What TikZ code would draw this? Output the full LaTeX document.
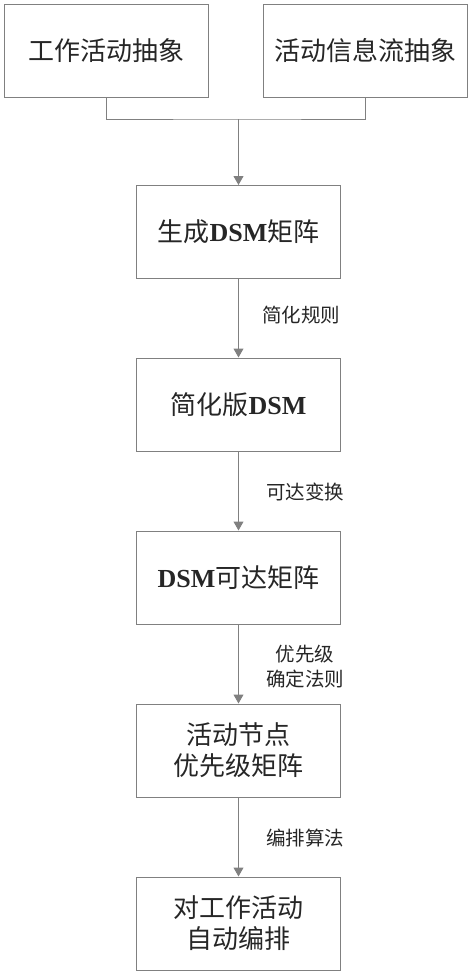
\documentclass[tikz,border=0pt]{standalone}
\usepackage{fontspec}
\setmainfont{Liberation Serif}
\newfontfamily\cjk{Noto Sans CJK SC}
\usetikzlibrary{arrows.meta}

\begin{document}
\begin{tikzpicture}[
		x=1pt, y=1pt,
		every node/.style={text=black!85},
		box/.style={rectangle, draw=gray, line width=1pt, minimum width=204pt, minimum height=93pt, align=center, font=\fontsize{26}{31}\selectfont},
		lbl/.style={anchor=west, align=center, inner sep=0pt, font=\fontsize{19.5}{25}\selectfont},
		flow/.style={draw=gray, line width=1pt, -{Triangle[width=10pt, length=9pt]}}
	]
  \useasboundingbox (0, 0) rectangle (474, -977);
  \node (abs_w) [box] at (106, -50.5) {{\cjk 工作活动抽象}};
  \node (abs_f) [box] at (365, -50.5) {{\cjk 活动信息流抽象}};
  \coordinate (j) at (238.5, -119);
  \node (dsm_0) [box] at (238.5, -232) {{\cjk 生成}\textbf{DSM}{\cjk 矩阵}};
  \node (dsm_s) [box] at (238.5, -404.5) {{\cjk 简化版}\textbf{DSM}};
  \node (dsm_r) [box] at (238.5, -577.5) {\textbf{DSM}{\cjk 可达矩阵}};
  \node (prio) [box] at (238.5, -750.5) {{\cjk 活动节点}\\{\cjk 优先级矩阵}};
  \node (sched) [box] at (238.5, -923.5) {{\cjk 对工作活动}\\{\cjk 自动编排}};
  % labels beside the arrows
  \node (l_1) [lbl] at (262, -315) {{\cjk 简化规则}};
  \node (l_2) [lbl] at (266, -492) {{\cjk 可达变换}};
  \node (l_3) [lbl] at (266, -667) {{\cjk 优先级}\\{\cjk 确定法则}};
  \node (l_4) [lbl] at (266, -838) {{\cjk 编排算法}};
  \draw [draw=gray, line width=1pt] (abs_w.south) |- (j) -| (abs_f.south);
  \draw [flow] (j) -- (dsm_0.north);
  \draw [flow] (dsm_0) -- (dsm_s);
  \draw [flow] (dsm_s) -- (dsm_r);
  \draw [flow] (dsm_r) -- (prio);
  \draw [flow] (prio) -- (sched);
\end{tikzpicture}
\end{document}
